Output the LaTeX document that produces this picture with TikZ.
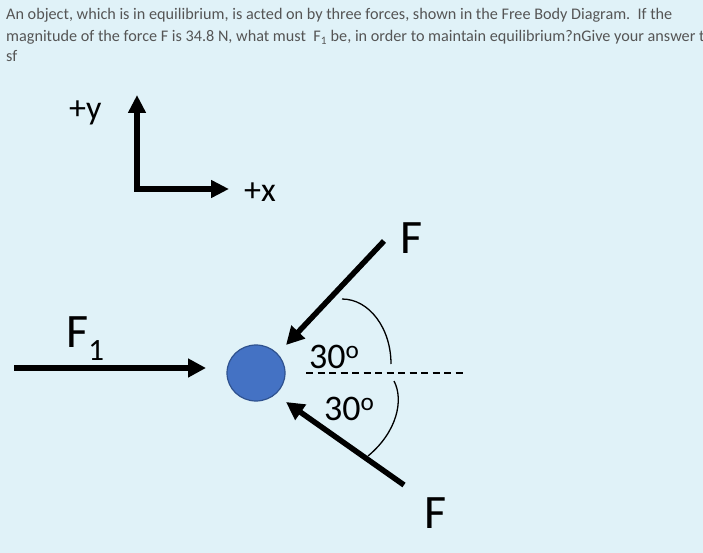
\documentclass[tikz,border=0pt]{standalone}
\usepackage{fontspec}
\setmainfont{Carlito}
\usetikzlibrary{arrows.meta,shapes.geometric}
\definecolor{bg}{HTML}{E0F2F8}
\definecolor{qtext}{HTML}{555555}
\definecolor{ball}{HTML}{4472C4}
\definecolor{balledge}{HTML}{2F528F}
\tikzset{
  force/.style={draw=black, line width=5.5pt, -{Triangle[length=18pt,width=18pt]}},
  arcline/.style={draw=black, line width=1.3pt},
  refline/.style={draw=black, line width=1.4pt, dash pattern=on 7pt off 4.5pt},
  qline/.style={text=qtext, anchor=base west, inner sep=0pt, font=\fontsize{16.2}{21}\selectfont},
  axlab/.style={anchor=base west, inner sep=0pt, font=\fontsize{34}{34}\selectfont},
  flab/.style={anchor=base west, inner sep=0pt, font=\fontsize{48}{48}\selectfont},
  anglab/.style={anchor=base west, inner sep=0pt, font=\fontsize{36}{36}\selectfont},
}

\begin{document}
\begin{tikzpicture}[x=1pt, y=-1pt]
\useasboundingbox (0,0) rectangle (703,553);
\fill[bg] (0,0) rectangle (703,553);
\clip (0,0) rectangle (703,553);

\node[qline] (q1) at (6,20) {An object, which is in equilibrium, is acted on by three forces, shown in the Free Body Diagram.\ \ If the};
\node[qline] (q2) at (6,42) {magnitude of the force F is 34.8 N, what must\ \ F\textsubscript{1} be, in order to maintain equilibrium?nGive your answer to};
\node[qline] (q3) at (6,62) {sf};

\coordinate (origin) at (137,189);
\coordinate (ytip) at (137,95);
\coordinate (xtip) at (229,189);
\draw[force, -{Triangle[length=18pt,width=17pt]}] ([yshift=2.75pt]origin) -- (ytip);
\draw[force, -{Triangle[length=18pt,width=17pt]}] ([xshift=-2.75pt]origin) -- (xtip);
\node[axlab] (ylab) at (69,120) {+y};
\node[axlab] (xlab) at (244,202) {+x};

\node[draw=balledge, fill=ball, line width=1.2pt, ellipse, minimum width=58pt, minimum height=56pt, inner sep=0pt] (obj) at (256,373) {};

\coordinate (f1tail) at (14,368);
\coordinate (f1tip) at (206,368);
\draw[force] (f1tail) -- (f1tip);
\node[flab] (f1lab) at (66,347) {F\raisebox{-13pt}{\fontsize{31}{31}\selectfont 1}};

\coordinate (ftopTail) at (384,241);
\coordinate (ftopTip) at (286,345);
\draw[force] (ftopTail) -- (ftopTip);
\node[flab] (ftoplab) at (400,253) {F};

\coordinate (fbotTail) at (404,485);
\coordinate (fbotTip) at (286,402);
\draw[force] (fbotTail) -- (fbotTip);
\node[flab] (fbotlab) at (424,528) {F};

\coordinate (refstart) at (306,373);
\coordinate (refend) at (463,373);
\draw[refline] (refstart) -- (refend);

\draw[arcline] (342,299) .. controls (369,299) and (391,328) .. (391,364);
\draw[arcline] (394,381) .. controls (404,400) and (397,432) .. (368,456);

\node[anglab] (angtop) at (309,368) {30\textsuperscript{o}};
\node[anglab] (angbot) at (324,420) {30\textsuperscript{o}};
\end{tikzpicture}
\end{document}
